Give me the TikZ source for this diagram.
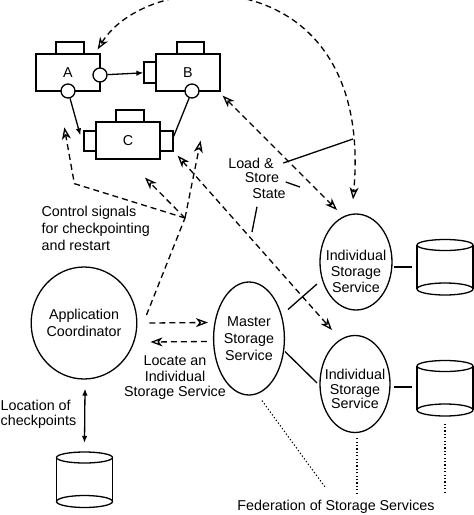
\documentclass[tikz,border=0pt]{standalone}
\usepackage{fontspec}
\setmainfont{Liberation Sans}
\usetikzlibrary{shapes.geometric,arrows.meta,calc}
\begin{document}
\begin{tikzpicture}[x=1pt,y=-1pt, line width=1.3pt,
  font=\fontsize{14.3}{17}\selectfont,
  comp/.style={draw, fill=white, inner sep=0, minimum width=64, minimum height=37},
  tabbox/.style={draw, inner sep=0, minimum width=28, minimum height=12},
  port/.style={draw, fill=white, inner sep=0, minimum width=12, minimum height=20},
  sock/.style={draw, fill=white, circle, inner sep=0, minimum size=14},
  svc/.style={draw, ellipse, inner sep=0},
  txt/.style={inner sep=0, align=center},
  dsh/.style={dash pattern=on 6pt off 4pt},
  dot/.style={line width=1.1pt, dash pattern=on 1.2pt off 2.2pt},
  oa/.tip={Stealth[open, length=12pt, width=9pt, inset=3.5pt]},
  sa/.tip={Latex[length=7pt, width=5.5pt]},
  drum/.pic={
    \draw (-28,-22) -- (-28,22);
    \draw (28,-22) -- (28,22);
    \draw (0,-22) ellipse (28 and 5.5);
    \draw (0,22) ellipse (28 and 6);
    \node[inner sep=0, minimum width=56, minimum height=56] (-b) {};
  }]
\useasboundingbox (0,0) rectangle (474,515);

% components
\node[tabbox] (Atab) at (70,48) {};
\node[comp] (A) at (68,72.5) {A};
\node[sock] (Aout) at (100,75) {};
\node[sock] (Abot) at (68,91) {};

\node[tabbox, minimum width=27] (Btab) at (190.5,48) {};
\node[comp] (B) at (188,72.5) {B};
\node[port, minimum height=21] (Bin) at (150,72.5) {};
\node[sock] (Bbot) at (192,91) {};

\node[tabbox] (Ctab) at (130,116) {};
\node[comp] (C) at (128,140.5) {C};
\node[port] (Cl) at (90,141) {};
\node[port, minimum width=13] (Cr) at (166.5,141) {};

\draw[-sa] (Aout) -- (Bin);
\draw[-sa] (Abot) -- ($(Cl.north west)+(-3,5)$);
\draw (Bbot) -- ($(Cr.north east)+(0,6)$);

% services
\node[svc, minimum width=88, minimum height=112, align=center] (AC) at (84,323) {Application\\Coordinator};
\node[svc, minimum width=65, minimum height=113, align=center] (MSS) at (249,338.5)
  {\fontsize{14.3}{16}\selectfont Master\\Storage\\Service};
\node[svc, minimum width=72, minimum height=96] (ISS1) at (356,262) {};
\node[txt, font=\fontsize{14.3}{16}\selectfont] (ISS1t) at (356,271) {Individual\\Storage\\Service};
\node[svc, minimum width=70, minimum height=97] (ISS2) at (355,384) {};
\node[txt, font=\fontsize{14.3}{14.5}\selectfont] (ISS2t) at (355,389) {Individual\\Storage\\Service};

% cylinders
\pic (cyl1) at (445,267) {drum};
\pic (cyl2) at (445,388) {drum};
\pic (cyl3) at (84.5,479.5) {drum};

\draw ($(ISS1.east)+(1,5)$) -- ($(cyl1-b.west)+(-4,0)$);
\draw ($(ISS2.east)+(3,3)$) -- ($(cyl2-b.west)+(-4,-1)$);
\draw ($(MSS)+(39,-29)$) -- ($(ISS1)+(-39,22)$);
\draw ($(MSS)+(36,13)$) -- ($(ISS2)+(-38,-1)$);
\draw[sa-sa] ($(AC.south)+(1,9)$) -- ($(cyl3-b.north)+(0,-8)$);

% control signals
\coordinate (J) at (185,218);
\draw[dsh] ($(AC.east)+(9,-8)$) -- (J);
\draw[dsh,-oa] (J) -- ($(C.south)+(17,18)$);
\draw[dsh,-oa] (J) -- ($(Cr.south east)+(27,-11)$);
\draw[dsh,-oa] (J) -- ($(Cl.south west)+(-9,32)$) -- ($(Cl.north west)+(-19,-3)$);

% load / store
\draw[dsh,oa-oa] ($(B.south east)+(2,4)$) -- ($(ISS1)+(-19,-52)$);
\draw[dsh,oa-oa] ($(Cr.south east)+(4,4)$) -- ($(ISS2)+(-23,-54)$);
\draw[dsh,oa-oa] ($(A.north east)+(-3,-4)$) .. controls (150,-35) and (375,-40) .. ($(ISS1.north)+(-3,-14)$);

% coordinator <-> master
\draw[dsh,-oa] ($(AC.east)+(12,0)$) -- ($(MSS.west)+(-5,-16)$);
\draw[dsh,-oa] ($(MSS.west)+(-6,3)$) -- ($(AC.east)+(13,19)$);

% labels
\node[txt, align=left, anchor=west] (ctl) at (41,228) {Control signals\\for checkpointing\\and restart};
\node[txt] (ls1) at (251,163) {Load \&};
\node[txt] (ls2) at (262,178) {Store};
\node[txt] (ls3) at (269,194) {State};
\coordinate (k1) at (353,139);
\coordinate (k2) at (300,187);
\coordinate (k3) at (252,232);
\draw ($(ls1.east)+(9,0)$) -- (k1);
\draw ($(ls2.east)+(6,4)$) -- (k2);
\draw ($(ls3.south)+(-12,7)$) -- (k3);

\node[txt, font=\fontsize{14.3}{15.5}\selectfont] (loc) at (175,378) {Locate an\\Individual\\Storage Service};
\node[txt, align=left, anchor=west, font=\fontsize{14.3}{15}\selectfont] (lck) at (0,414.5) {Location of\\checkpoints};

\node[txt] (fed) at (336,507) {Federation of Storage Services};
\draw[dot] ($(MSS.south)+(13,5)$) -- ($(fed)+(-11,-20)$);
\draw[dot] ($(ISS2.south)+(2,5)$) -- ($(fed)+(21,-12)$);
\draw[dot] ($(cyl2-b.south)+(0,7)$) -- ($(fed)+(109,-15)$);
\end{tikzpicture}
\end{document}
